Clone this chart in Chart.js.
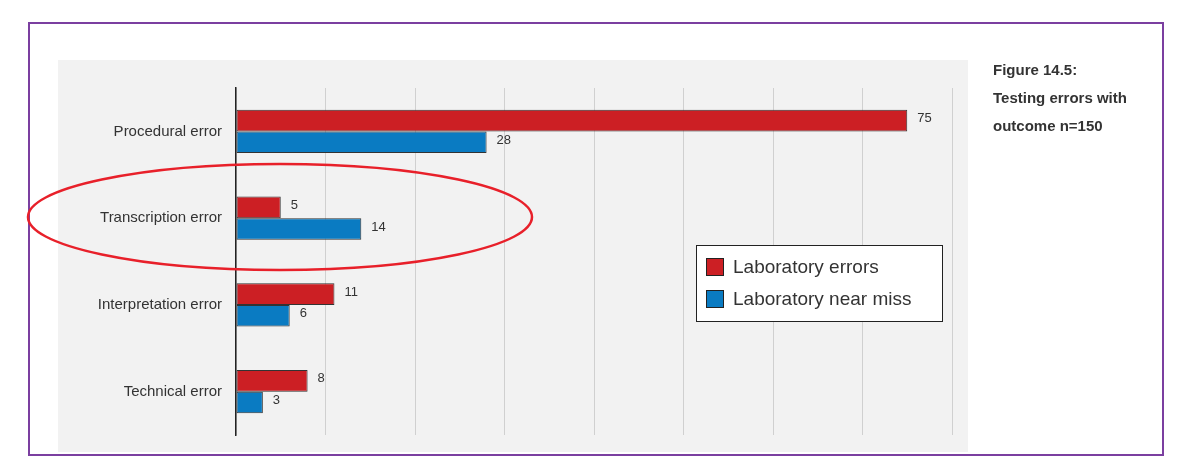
<!DOCTYPE html>
<html><head><meta charset="utf-8">
<script src="https://cdn.jsdelivr.net/npm/chart.js@4/dist/chart.umd.min.js"></script>
<style>html,body{margin:0;padding:0;background:#fff}#w{width:1186px;height:471px}</style>
</head><body><div id="w"><canvas id="c"></canvas></div>
<script>
const categories = ["Procedural error","Transcription error","Interpretation error","Technical error"];
const labErrors = [75,5,11,8];
const nearMiss = [28,14,6,3];
const seriesNames = ["Laboratory errors","Laboratory near miss"];
const titleLines = ["Figure 14.5:","Testing errors with","outcome n=150"];
const RED="#cc1f24", BLUE="#0a7bc2";
const FONT="Arial, 'Liberation Sans', sans-serif";

const deco = {
  id:'deco',
  beforeDraw(ch){
    const c=ch.ctx; c.save();
    c.fillStyle="#fff"; c.fillRect(0,0,ch.width,ch.height);
    c.strokeStyle="#7b3fa0"; c.lineWidth=2; c.strokeRect(29,23,1134,432);
    c.fillStyle="#f2f2f2"; c.fillRect(58,60,910,392);
    c.restore();
  },
  afterDatasetsDraw(ch){
    const c=ch.ctx; c.save();
    c.font="13px "+FONT; c.fillStyle="#333"; c.textBaseline="middle";
    ch.data.datasets.forEach((ds,i)=>{
      ch.getDatasetMeta(i).data.forEach((b,j)=>{ c.fillText(String(ds.data[j]), b.x+10, b.y-2); });
    });
    // legend
    c.fillStyle="#fff"; c.fillRect(696,245,246,76);
    c.strokeStyle="#222"; c.lineWidth=1; c.strokeRect(696.5,245.5,246,76);
    c.font="19px "+FONT;
    [RED,BLUE].forEach((col,i)=>{
      const y=267+i*32;
      c.fillStyle=col; c.fillRect(706,y-9,18,18);
      c.strokeStyle="#222"; c.strokeRect(706.5,y-8.5,17,17);
      c.fillStyle="#333"; c.fillText(ch.data.datasets[i].label,733,y+1);
    });
    // title
    c.font="bold 15px "+FONT; c.fillStyle="#333"; c.textBaseline="middle";
    titleLines.forEach((t,i)=>c.fillText(t,993,71+i*28));
    // ellipse
    c.strokeStyle="#e8202a"; c.lineWidth=2.5;
    c.beginPath(); c.ellipse(280,217,252,53,0,0,Math.PI*2); c.stroke();
    c.restore();
  }
};

new Chart(document.getElementById('c'),{
  type:'bar',
  data:{labels:categories,datasets:[
    {label:seriesNames[0],data:labErrors,backgroundColor:RED,borderColor:"#333",borderWidth:1,borderSkipped:false},
    {label:seriesNames[1],data:nearMiss,backgroundColor:BLUE,borderColor:"#333",borderWidth:1,borderSkipped:false}
  ]},
  options:{
    indexAxis:'y',responsive:true,maintainAspectRatio:false,animation:false,
    layout:{padding:{left:58,right:234,top:88,bottom:36}},
    plugins:{legend:{display:false},tooltip:{enabled:false}},
    datasets:{bar:{categoryPercentage:0.5,barPercentage:1}},
    scales:{
      x:{min:0,max:80,ticks:{display:false,stepSize:10},border:{display:false},
         grid:{color:"#d0d0d0",drawTicks:false},afterFit:s=>{s.height=0;}},
      y:{grid:{display:false},border:{color:"#222",width:1.5},
         ticks:{color:"#333",font:{size:15,family:FONT},padding:6},
         afterFit:s=>{s.width=178;}}
    }
  },
  plugins:[deco]
});
</script></body></html>
